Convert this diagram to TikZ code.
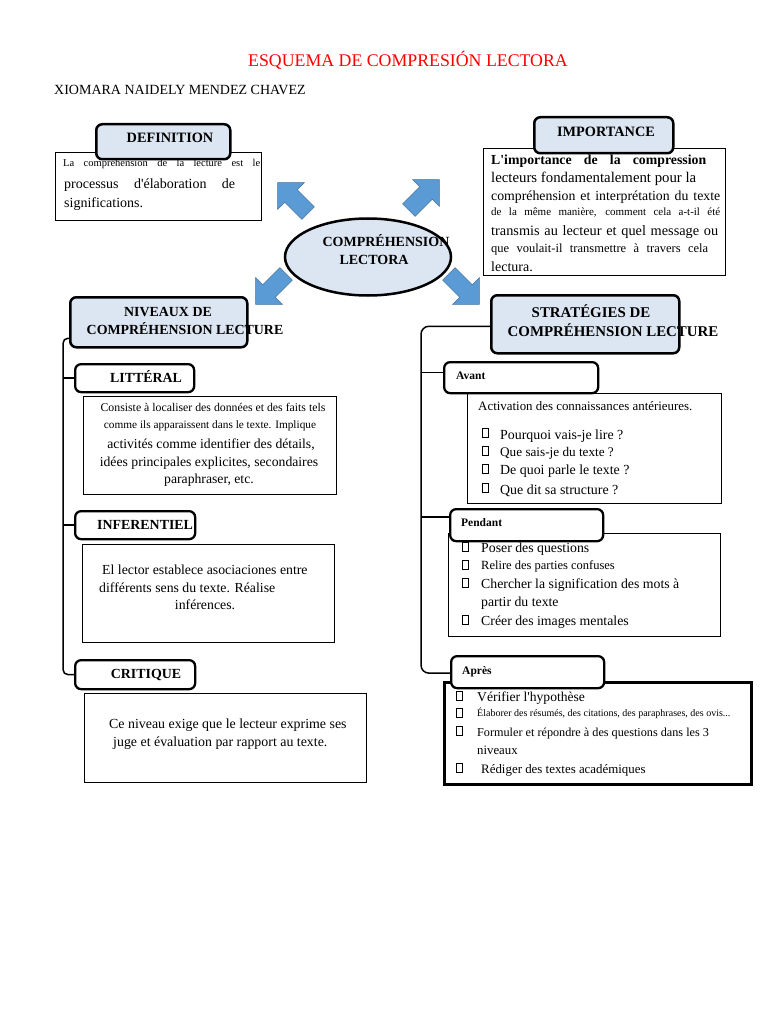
\documentclass[tikz,border=0pt]{standalone}
\usepackage{fontspec}
\setmainfont{Liberation Serif}
\usetikzlibrary{shapes.geometric,shapes.arrows}
\definecolor{tabblue}{HTML}{DCE6F2}
\definecolor{arrfill}{HTML}{5B9BD5}
\definecolor{arrline}{HTML}{41719C}
\definecolor{titlered}{HTML}{FF0000}
\newcommand\fs[1]{\fontsize{#1}{#1}\selectfont}
\newcommand\ap{\textquotesingle}
\begin{document}
\begin{tikzpicture}[x=1pt,y=-1pt,
 txtbox/.style={draw, line width=1.3pt, fill=white, inner sep=0pt, anchor=north west},
 bluetab/.style={draw, line width=2.5pt, rounded corners=6pt, fill=tabblue, inner sep=0pt, anchor=north west},
 whitetab/.style={draw, line width=2.3pt, rounded corners=6pt, fill=white, inner sep=0pt, anchor=north west},
 tl/.style={inner sep=0pt, anchor=base west},
 tc/.style={inner sep=0pt, anchor=base},
 chk/.style={draw, line width=0.5pt, minimum width=6pt, minimum height=9pt, inner sep=0pt},
 tree/.style={line width=1.5pt, rounded corners=5pt},
 blockarrow/.style={single arrow, draw=arrline, line width=0.6pt, fill=arrfill, minimum height=43pt, inner xsep=0pt, inner ysep=8.5pt, single arrow head extend=10pt}]
\fill[white] (0,0) rectangle (768,1024);
\useasboundingbox (0,0) rectangle (768,1024);

% title
\node[tc, text=titlered] (title) at (408,67) {\fs{17.8}ESQUEMA DE COMPRESIÓN LECTORA};
\node[tl] (author) at (54,95) {\fs{14}XIOMARA NAIDELY MENDEZ CHAVEZ};

% definition
\node[txtbox, minimum width=206pt, minimum height=68pt] (defbox) at (55,152) {};
\node[tl] (d1) at (63,167) {\fs{10.5}\makebox[197pt][s]{La compréhension de la lecture est le}};
\node[bluetab, minimum width=134pt, minimum height=35pt] (deftab) at (95,123) {};
\node[tc] (deft) at (170,143) {\fs{14.3}\bfseries DEFINITION};
\node[tl] (d2) at (64,189) {\fs{14}\makebox[171pt][s]{processus d\ap élaboration de}};
\node[tl] (d3) at (64,208) {\fs{14}significations.};

% importance
\node[txtbox, minimum width=242pt, minimum height=127pt] (impbox) at (483,148) {};
\node[bluetab, minimum width=139pt, minimum height=36pt] (imptab) at (533,116) {};
\node[tc] (impt) at (606,137) {\fs{14.3}\bfseries IMPORTANCE};
\node[tl] (i1) at (491,165) {\fs{13.8}\bfseries\makebox[215pt][s]{L\ap importance de la compression}};
\node[tl] (i2) at (491,183) {\fs{14.8}lecteurs fondamentalement pour la};
\node[tl] (i3) at (491,201) {\fs{13.8}\makebox[229pt][s]{compréhension et interprétation du texte}};
\node[tl] (i4) at (491,216) {\fs{11}\makebox[229pt][s]{de la même manière, comment cela a-t-il été}};
\node[tl] (i5) at (491,236) {\fs{14.3}\makebox[227pt][s]{transmis au lecteur et quel message ou}};
\node[tl] (i6) at (491,252) {\fs{12.5}\makebox[217pt][s]{que voulait-il transmettre à travers cela}};
\node[tl] (i7) at (491,271) {\fs{14}lectura.};

% centre
\node[ellipse, draw, line width=2.5pt, fill=tabblue, minimum width=166pt, minimum height=77pt] (centre) at (368,257) {};
\node[tc] (c1) at (386,246) {\fs{14}\bfseries COMPRÉHENSION};
\node[tc] (c2) at (374,264) {\fs{14}\bfseries LECTORA};

% block arrows
\node[blockarrow, rotate=135] (a1) at (296,201) {};
\node[blockarrow, rotate=45] (a2) at (421,198) {};
\node[blockarrow, rotate=225] (a3) at (274,286) {};
\node[blockarrow, rotate=-45] (a4) at (461,286) {};

% niveaux
\node[bluetab, minimum width=177pt, minimum height=50pt] (niv) at (69,296) {};
\node[tc] (n1) at (168,316) {\fs{13.9}\bfseries NIVEAUX DE};
\node[tc] (n2) at (185,334) {\fs{13.9}\bfseries COMPRÉHENSION LECTURE};

\node[txtbox, minimum width=253pt, minimum height=98pt] (litbox) at (83,396) {};
\node[whitetab, minimum width=119pt, minimum height=28pt] (lit) at (74,363) {};
\node[tc] (litt) at (146,382) {\fs{13.9}\bfseries LITTÉRAL};
\node[tc] (l1) at (213,411) {\fs{11.8}Consiste à localiser des données et des faits tels};
\node[tc] (l2) at (210,428) {\fs{11.3}comme ils apparaissent dans le texte. Implique};
\node[tc] (l3) at (211,448) {\fs{13.7}activités comme identifier des détails,};
\node[tc] (l4) at (209,466) {\fs{13.7}idées principales explicites, secondaires};
\node[tc] (l5) at (209,483) {\fs{13.7}paraphraser, etc.};

\node[txtbox, minimum width=252pt, minimum height=98pt] (infbox) at (82,544) {};
\node[whitetab, minimum width=120pt, minimum height=28pt] (inf) at (74,510) {};
\node[tl] (inft) at (97,529) {\fs{13.9}\bfseries INFERENTIEL};
\node[tl] (f1) at (102,574) {\fs{13.8}El lector establece asociaciones entre};
\node[tl] (f2) at (99,592) {\fs{13.8}différents sens du texte. Réalise};
\node[tc] (f3) at (205,609) {\fs{13.8}inférences.};

\node[txtbox, minimum width=282pt, minimum height=89pt] (critbox) at (84,693) {};
\node[whitetab, minimum width=120pt, minimum height=29pt] (crit) at (74,659) {};
\node[tc] (critt) at (146,678) {\fs{13.9}\bfseries CRITIQUE};
\node[tl] (k1) at (109,728) {\fs{13.9}Ce niveau exige que le lecteur exprime ses};
\node[tl] (k2) at (113,746) {\fs{13.9}juge et évaluation par rapport au texte.};

% left tree
\coordinate (L) at (63,0);
\draw[tree] ([yshift=-16pt]niv.west) -| (crit.west -| L) -- (crit.west);
\draw[tree] (lit.west) -- (lit.west -| L);
\draw[tree] (inf.west) -- (inf.west -| L);

% strategies
\node[bluetab, minimum width=188pt, minimum height=58pt] (strat) at (490,294) {};
\node[tc] (s1) at (591,317) {\fs{14.9}\bfseries STRATÉGIES DE};
\node[tc] (s2) at (613,336) {\fs{14.9}\bfseries COMPRÉHENSION LECTURE};

\node[txtbox, minimum width=254pt, minimum height=110pt] (avbox) at (467,393) {};
\node[whitetab, minimum width=154pt, minimum height=31pt] (av) at (443,361) {};
\node[tl] (avt) at (456,379) {\fs{11.5}\bfseries Avant};
\node[tl] (v0) at (478,410) {\fs{12.9}Activation des connaissances antérieures.};
\node[chk] (vc1) at (485,433) {};
\node[tl] (v1) at (500,439) {\fs{13.9}Pourquoi vais-je lire ?};
\node[chk] (vc2) at (485,451) {};
\node[tl] (v2) at (500,456) {\fs{13.2}Que sais-je du texte ?};
\node[chk] (vc3) at (485,469) {};
\node[tl] (v3) at (500,474) {\fs{13.9}De quoi parle le texte ?};
\node[chk] (vc4) at (485,488) {};
\node[tl] (v4) at (500,494) {\fs{13.9}Que dit sa structure ?};

\node[txtbox, minimum width=272pt, minimum height=103pt] (penbox) at (448,533) {};
\node[whitetab, minimum width=153pt, minimum height=32pt] (pen) at (449,508) {};
\node[tl] (pent) at (461,526) {\fs{11.5}\bfseries Pendant};
\node[chk] (pc1) at (465,547) {};
\node[tl] (p1) at (481,552) {\fs{13.8}Poser des questions};
\node[chk] (pc2) at (465,565) {};
\node[tl] (p2) at (481,569) {\fs{12.5}Relire des parties confuses};
\node[chk] (pc3) at (465,583) {};
\node[tl] (p3) at (481,588) {\fs{13.8}Chercher la signification des mots à};
\node[tl] (p4) at (481,606) {\fs{13.8}partir du texte};
\node[chk] (pc4) at (465,620) {};
\node[tl] (p5) at (481,625) {\fs{13.8}Créer des images mentales};

\node[txtbox, line width=2.5pt, minimum width=307pt, minimum height=102pt] (apbox) at (443,681) {};
\node[whitetab, minimum width=153pt, minimum height=32pt] (ap) at (450,655) {};
\node[tl] (apt) at (462,674) {\fs{11.5}\bfseries Après};
\node[chk] (ac1) at (459,696) {};
\node[tl] (r1) at (477,701) {\fs{13.6}Vérifier l\ap hypothèse};
\node[chk] (ac2) at (459,713) {};
\node[tl] (r2) at (477,716) {\fs{10}Élaborer des résumés, des citations, des paraphrases, des ovis...};
\node[chk] (ac3) at (459,731) {};
\node[tl] (r3) at (477,736) {\fs{12.2}Formuler et répondre à des questions dans les 3};
\node[tl] (r4) at (477,754) {\fs{12.8}niveaux};
\node[chk] (ac4) at (459,768) {};
\node[tl] (r5) at (481,773) {\fs{12.9}Rédiger des textes académiques};

% right tree
\coordinate (R) at (421,0);
\draw[tree, rounded corners=8pt] ([yshift=-2pt]strat.west) -| ([yshift=-1pt]ap.west -| R) -- ([yshift=-1pt]ap.west);
\draw[tree] ([yshift=5pt]av.west) -- ([yshift=5pt]av.west -| R);
\draw[tree] ([yshift=8pt]pen.west) -- ([yshift=8pt]pen.west -| R);
\end{tikzpicture}
\end{document}
